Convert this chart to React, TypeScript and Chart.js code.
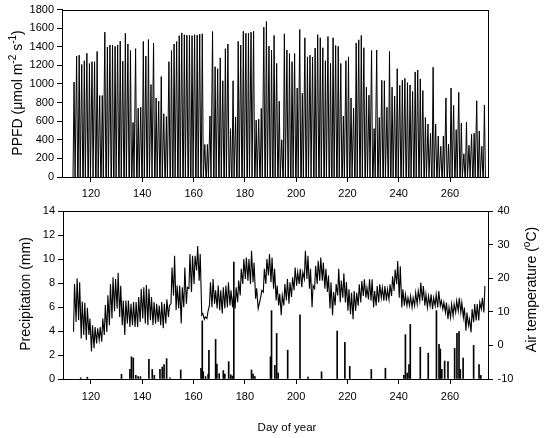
import React, { useEffect, useRef } from "react";
import { Chart, registerables } from "chart.js";

Chart.register(...registerables);

const FONT = "'Liberation Sans', Arial, Helvetica, sans-serif";

// ---------- data ----------
const dayTicks = [120, 140, 160, 180, 200, 220, 240, 260];
const ppfdTicks = [0, 200, 400, 600, 800, 1000, 1200, 1400, 1600, 1800];
const precipTicks = [0, 2, 4, 6, 8, 10, 12, 14];
const tempTicks = [-10, 0, 10, 20, 30, 40];

const firstDay = 113;

// daily PPFD maximum (umol m-2 s-1), days 113..273
const ppfdDailyPeak = [
  1020, 1300, 1310, 1210, 1250, 1330, 1220, 1240, 1240, 1350,
  876, 876, 1557, 1398, 1420, 1420, 1405, 1420, 1461, 1245,
  1546, 1430, 1360, 586, 1380, 740, 750, 1457, 1300, 1478,
  994, 1440, 850, 815, 1080, 680, 650, 1240, 1360, 1430,
  1457, 1520, 1550, 1530, 1525, 1525, 1520, 1530, 1525, 1535,
  1540, 350, 350, 656, 1564, 1186, 1165, 1281, 1035, 1380,
  1430, 519, 1035, 646, 1458, 1418, 1567, 1546, 1546, 1557,
  1567, 611, 622, 738, 1610, 1673, 1408, 1365, 1522, 1221,
  815, 400, 1539, 1365, 1327, 1240, 1327, 956, 1585, 900,
  1497, 1292, 1310, 1290, 1387, 1530, 1497, 1390, 1250, 1510,
  1221, 1497, 1414, 1405, 1221, 655, 1250, 1292, 850, 740,
  1440, 1475, 1522, 1390, 966, 880, 1360, 520, 1365, 640,
  1040, 1035, 750, 1350, 966, 870, 1165, 985, 1040, 1060,
  1015, 990, 920, 1130, 1150, 1055, 930, 640, 570, 470,
  1180, 570, 440, 330, 440, 850, 355, 956, 770, 510,
  910, 580, 250, 590, 340, 460, 470, 820, 495, 330,
  775,
];

// daily air temperature max / min (deg C), days 113..273
const tempDailyMax = [
  18.3, 20.0, 18.8, 13.1, 12.7, 11.2, 8.0, 6.0, 5.5, 5.1,
  5.5, 8.0, 12.0, 14.9, 18.3, 20.3, 19.8, 21.6, 17.8, 13.4,
  13.4, 13.4, 12.4, 12.9, 12.9, 14.4, 16.9, 17.3, 18.0, 16.9,
  14.4, 12.9, 12.4, 11.9, 12.9, 12.4, 13.7, 11.9, 23.2, 26.7,
  17.8, 17.8, 17.3, 23.2, 17.3, 27.2, 26.7, 26.7, 29.6, 27.2,
  9.5, 8.5, 10.0, 18.8, 19.8, 16.4, 17.8, 16.4, 17.3, 17.8,
  18.8, 16.4, 15.4, 17.3, 19.3, 22.8, 25.7, 26.2, 25.7, 28.2,
  24.7, 17.0, 12.4, 16.4, 22.8, 25.7, 27.2, 26.2, 22.8, 17.8,
  15.4, 14.9, 18.3, 19.8, 18.8, 20.3, 23.2, 21.8, 22.8, 21.8,
  28.2, 26.7, 22.8, 17.8, 23.7, 25.2, 26.2, 24.7, 22.8, 20.8,
  18.8, 15.9, 18.3, 22.8, 19.3, 21.5, 18.9, 16.7, 15.7, 16.2,
  15.7, 18.2, 19.2, 19.7, 17.2, 19.7, 19.7, 16.2, 17.7, 18.2,
  17.2, 17.7, 16.7, 18.2, 20.6, 22.6, 25.1, 23.6, 16.7, 15.2,
  14.2, 14.7, 14.2, 15.7, 16.2, 18.7, 17.7, 15.2, 14.7, 15.2,
  14.2, 15.2, 16.2, 13.3, 12.8, 12.8, 11.3, 12.3, 12.3, 13.3,
  14.2, 12.8, 11.3, 9.8, 7.8, 10.8, 12.3, 12.3, 12.8, 14.2,
  17.7,
];
const tempDailyMin = [
  4.1, 7.0, 7.5, 2.1, 3.1, 1.6, 3.1, -1.8, -0.8, 0.6,
  1.6, 1.1, 3.1, 4.0, 6.0, 8.0, 10.2, 11.0, 8.5, 6.0,
  3.1, 6.5, 5.5, 6.0, 5.5, 5.5, 7.0, 8.0, 6.5, 6.0,
  7.5, 6.0, 6.5, 7.0, 6.0, 5.1, 6.5, 8.5, 12.4, 14.9,
  10.5, 11.0, 6.5, 11.4, 12.4, 16.9, 15.9, 18.3, 22.3, 19.3,
  9.0, 7.8, 8.0, 11.9, 11.4, 12.4, 11.0, 10.5, 9.5, 11.0,
  11.4, 11.9, 11.4, 11.0, 12.9, 14.9, 18.3, 19.8, 19.3, 18.3,
  18.8, 13.9, 11.0, 14.4, 15.9, 18.3, 20.8, 18.8, 16.9, 13.4,
  11.9, 9.0, 11.9, 13.4, 12.4, 14.4, 16.4, 17.8, 18.3, 17.3,
  19.8, 19.8, 16.9, 11.4, 16.9, 18.3, 19.3, 19.3, 16.9, 15.9,
  11.0, 9.0, 11.9, 14.9, 12.9, 14.2, 12.8, 10.3, 9.3, 7.8,
  10.3, 11.8, 12.8, 14.7, 14.2, 13.7, 13.3, 11.3, 11.8, 12.8,
  14.2, 13.3, 13.3, 13.7, 14.7, 16.2, 18.2, 14.2, 11.3, 11.8,
  11.8, 11.8, 11.3, 11.8, 12.3, 13.3, 13.3, 11.8, 11.3, 11.8,
  10.8, 11.8, 11.3, 11.8, 10.8, 9.8, 7.8, 8.3, 8.8, 9.8,
  10.3, 9.8, 8.3, 4.4, 5.9, 3.9, 6.9, 7.4, 7.4, 10.8,
  9.8,
];

// precipitation events: day of year and amount (mm)
const precipDay = [
  116.0, 118.6, 131.9, 135.2, 135.8, 136.5, 137.5, 138.4, 139.3, 142.6,
  143.9, 144.7, 146.9, 147.8, 148.5, 149.5, 150.8, 155.0, 162.9, 163.4,
  163.8, 164.7, 165.7, 166.0, 168.6, 169.1, 170.0, 171.6, 172.2, 173.7,
  174.5, 175.1, 175.7, 182.6, 183.2, 183.9, 190.0, 190.4, 191.7, 192.4,
  193.0, 196.7, 201.5, 204.6, 209.9, 216.0, 219.0, 220.9, 229.3, 234.8,
  242.0, 242.6, 243.3, 244.0, 244.5, 248.4, 251.5, 254.7, 255.7, 256.2,
  256.8, 257.9, 259.2, 261.8, 262.7, 263.5, 264.0, 265.1, 269.2, 271.3,
  272.0,
];
const precipMm = [
  0.1, 0.15, 0.4, 0.8, 1.85, 1.75, 0.3, 0.2, 0.2, 1.65,
  0.8, 0.3, 0.8, 1.0, 1.2, 1.7, 0.1, 0.75, 0.9, 4.85,
  0.6, 0.2, 0.4, 2.4, 3.3, 1.25, 0.45, 0.7, 0.4, 1.45,
  0.35, 0.25, 9.75, 0.75, 0.4, 0.2, 1.85, 5.7, 1.15, 3.8,
  0.5, 2.4, 5.35, 0.15, 0.6, 4.0, 3.05, 1.05, 0.8, 0.9,
  0.3, 3.7, 0.5, 1.2, 4.55, 2.65, 2.15, 5.7, 2.9, 2.5,
  0.8, 1.5, 1.45, 2.55, 3.8, 3.95, 0.8, 1.75, 2.8, 1.2,
  0.3,
];

// ---------- helpers ----------
type Seg = { t: string; sup?: boolean };

function drawRich(
  ctx: CanvasRenderingContext2D,
  segs: Seg[],
  x: number,
  y: number,
  size: number,
  rotate: boolean
) {
  ctx.save();
  const main = `${size}px ${FONT}`;
  const supF = `${Math.round(size * 0.68)}px ${FONT}`;
  let total = 0;
  const widths = segs.map((s) => {
    ctx.font = s.sup ? supF : main;
    const w = ctx.measureText(s.t).width;
    total += w;
    return w;
  });
  ctx.translate(x, y);
  if (rotate) ctx.rotate(-Math.PI / 2);
  ctx.textBaseline = "alphabetic";
  ctx.textAlign = "left";
  ctx.fillStyle = "#000";
  let u = -total / 2;
  segs.forEach((s, i) => {
    ctx.font = s.sup ? supF : main;
    ctx.fillText(s.t, u, s.sup ? -size * 0.42 : 0);
    u += widths[i];
  });
  ctx.restore();
}

function frame(chart: any) {
  const { ctx, chartArea } = chart;
  const l = Math.round(chartArea.left) + 0.5;
  const t = Math.round(chartArea.top) + 0.5;
  const r = Math.round(chartArea.right) + 0.5;
  const b = Math.round(chartArea.bottom) + 0.5;
  ctx.save();
  ctx.strokeStyle = "#000";
  ctx.lineWidth = 1;
  ctx.strokeRect(l, t, r - l, b - t);
  ctx.restore();
}

const tickFont = { family: FONT, size: 11 };
const plainLabel = (v: any) => String(v);
const setTicks = (vals: number[]) => (scale: any) => {
  scale.ticks = vals.map((v) => ({ value: v }));
};
const gridCfg = {
  display: true,
  drawOnChartArea: false,
  drawTicks: true,
  tickLength: 5,
  color: "#000",
  tickWidth: 1,
};
const borderCfg = { display: true, color: "#000", width: 1 };

export default function App() {
  const topRef = useRef<HTMLCanvasElement>(null);
  const botRef = useRef<HTMLCanvasElement>(null);

  useEffect(() => {
    Chart.defaults.font.family = FONT;
    Chart.defaults.color = "#000";

    const ppfdPoints = ppfdDailyPeak.flatMap((p, i) => {
      const d = firstDay + i;
      return [
        { x: d, y: 0 },
        { x: d + 0.4, y: p },
        { x: d + 0.8, y: 0 },
      ];
    });
    const tempPoints = tempDailyMax.flatMap((mx, i) => {
      const d = firstDay + i;
      return [
        { x: d + 0.2, y: tempDailyMin[i] },
        { x: d + 0.6, y: mx },
      ];
    });
    const precipPoints = precipDay.map((d, i) => ({ x: d, y: precipMm[i] }));

    const topPlugin = {
      id: "topDeco",
      afterDraw(chart: any) {
        frame(chart);
        drawRich(
          chart.ctx,
          [
            { t: "PPFD (\u03bcmol m" },
            { t: "-2", sup: true },
            { t: " s" },
            { t: "-1", sup: true },
            { t: ")" },
          ],
          21.7,
          93,
          14,
          true
        );
      },
    };

    const botPlugin = {
      id: "botDeco",
      afterDraw(chart: any) {
        frame(chart);
        const ctx = chart.ctx;
        drawRich(ctx, [{ t: "Precipitation (mm)" }], 29.5, 94, 14, true);
        drawRich(
          ctx,
          [{ t: "Air temperature (" }, { t: "o", sup: true }, { t: "C)" }],
          535.5,
          89.5,
          14,
          true
        );
        drawRich(ctx, [{ t: "Day of year" }], 287, 231, 11.5, false);
      },
    };

    const c1 = new Chart(topRef.current!, {
      type: "line",
      data: {
        datasets: [
          {
            data: ppfdPoints,
            borderColor: "#000",
            borderWidth: 1,
            pointRadius: 0,
            tension: 0,
            fill: false,
          },
        ],
      },
      options: {
        responsive: false,
        maintainAspectRatio: false,
        animation: false,
        events: [],
        layout: { padding: { left: 0, right: 62, top: 7, bottom: 0 } },
        plugins: { legend: { display: false }, tooltip: { enabled: false } },
        scales: {
          x: {
            type: "linear",
            min: 108.7,
            max: 274.8,
            afterBuildTicks: setTicks(dayTicks),
            afterFit: (s: any) => {
              s.height = 23;
            },
            grid: gridCfg,
            border: borderCfg,
            ticks: { font: tickFont, color: "#000", padding: 5, maxRotation: 0, autoSkip: false, callback: plainLabel },
          },
          y: {
            type: "linear",
            min: 0,
            max: 1800,
            afterBuildTicks: setTicks(ppfdTicks),
            afterFit: (s: any) => {
              s.width = 62;
            },
            grid: gridCfg,
            border: borderCfg,
            ticks: { font: tickFont, color: "#000", padding: 3, autoSkip: false, callback: plainLabel },
          },
        },
      },
      plugins: [topPlugin],
    } as any);

    const c2 = new Chart(botRef.current!, {
      type: "bar",
      data: {
        datasets: [
          {
            type: "bar",
            data: precipPoints,
            backgroundColor: "#000",
            borderWidth: 0,
            barThickness: 1,
            grouped: false,
            xAxisID: "x",
            yAxisID: "y",
            order: 2,
          },
          {
            type: "line",
            data: tempPoints,
            borderColor: "#000",
            borderWidth: 1.1,
            pointRadius: 0,
            tension: 0,
            fill: false,
            xAxisID: "x",
            yAxisID: "y2",
            order: 1,
          },
        ],
      },
      options: {
        responsive: false,
        maintainAspectRatio: false,
        animation: false,
        events: [],
        layout: { padding: { left: 0, right: 0, top: 9, bottom: 0 } },
        plugins: { legend: { display: false }, tooltip: { enabled: false } },
        scales: {
          x: {
            type: "linear",
            min: 109.1,
            max: 274.8,
            offset: false,
            afterBuildTicks: setTicks(dayTicks),
            afterFit: (s: any) => {
              s.height = 59;
            },
            grid: { ...gridCfg, offset: false },
            border: borderCfg,
            ticks: { font: tickFont, color: "#000", padding: 6.4, maxRotation: 0, autoSkip: false, callback: plainLabel },
          },
          y: {
            type: "linear",
            position: "left",
            min: 0,
            max: 14,
            afterBuildTicks: setTicks(precipTicks),
            afterFit: (s: any) => {
              s.width = 63;
            },
            grid: gridCfg,
            border: borderCfg,
            ticks: { font: tickFont, color: "#000", padding: 3, autoSkip: false, callback: plainLabel },
          },
          y2: {
            type: "linear",
            position: "right",
            min: -10,
            max: 40,
            afterBuildTicks: setTicks(tempTicks),
            afterFit: (s: any) => {
              s.width = 62;
            },
            grid: gridCfg,
            border: borderCfg,
            ticks: { font: tickFont, color: "#000", padding: 4.5, autoSkip: false, callback: plainLabel },
          },
        },
      },
      plugins: [botPlugin],
    } as any);

    return () => {
      c1.destroy();
      c2.destroy();
    };
  }, []);

  return (
    <div
      style={{
        position: "absolute",
        left: 0,
        top: 0,
        width: 550,
        height: 438,
        background: "#fff",
      }}
    >
      <canvas
        ref={topRef}
        width={550}
        height={200}
        style={{ position: "absolute", left: 0, top: 0, width: 550, height: 200 }}
      />
      <canvas
        ref={botRef}
        width={550}
        height={238}
        style={{ position: "absolute", left: 0, top: 200, width: 550, height: 238 }}
      />
    </div>
  );
}
